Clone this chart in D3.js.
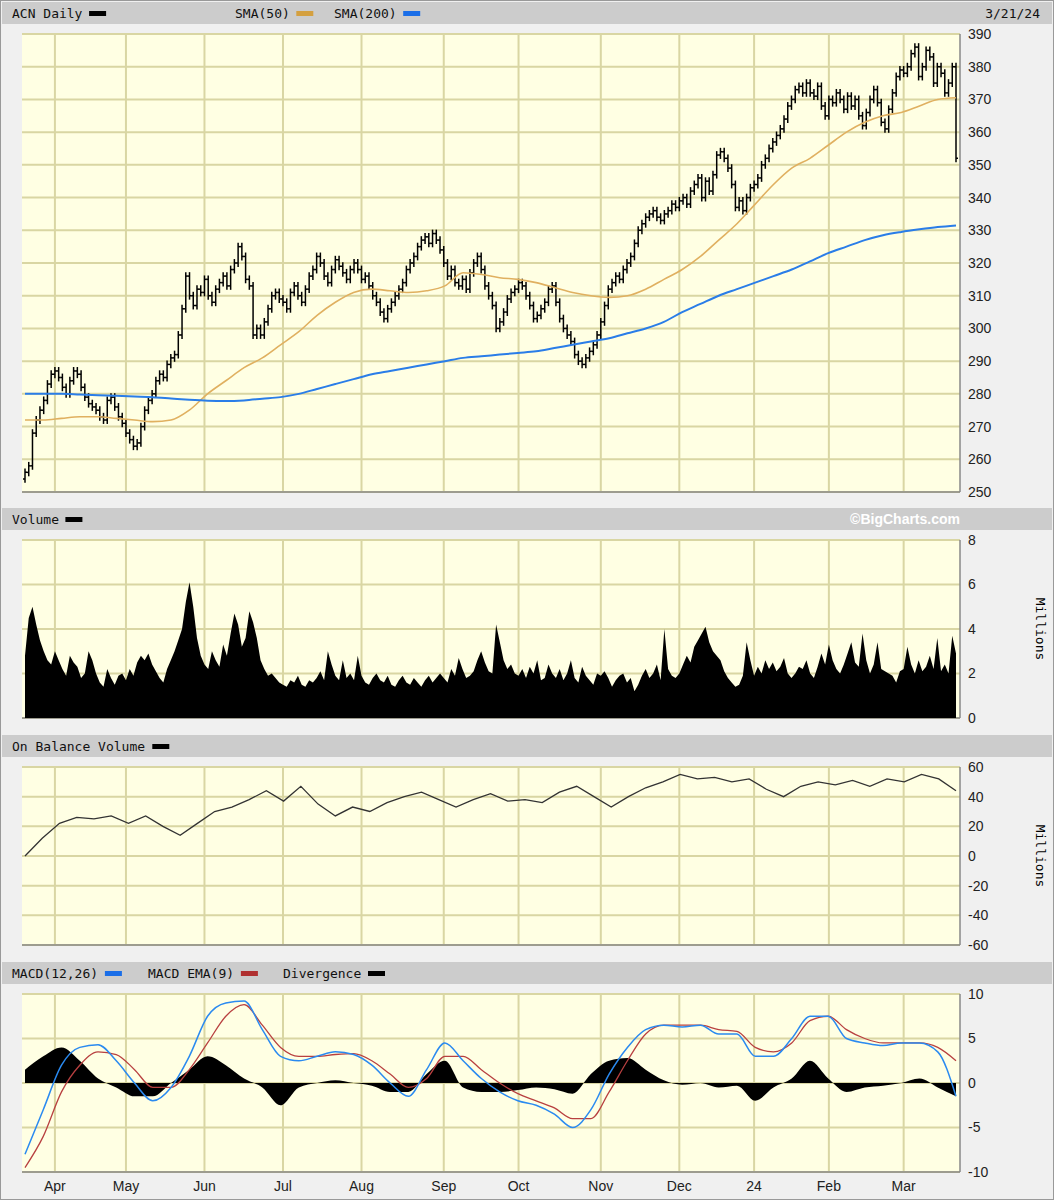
<!DOCTYPE html>
<html><head><meta charset="utf-8">
<script src="https://cdn.jsdelivr.net/npm/d3@7/dist/d3.min.js"></script>
<style>body{margin:0;background:#fff}svg{display:block}</style></head>
<body><svg id="c" width="1054" height="1200"></svg>
<script>
const closes=[256,258,268,272,275,278,283,
286,287,285,282,280,284,287,286,282,279,277,276,275,273,272,278,279,276,273,
271,268,266,264,265,270,275,278,280,284,286,285,289,291,292,298,306,316,310,307,312,311,
315,310,308,312,314,316,313,318,320,325,322,315,313,298,300,298,302,306,310,311,309,
308,306,311,313,310,308,312,316,318,322,320,316,314,318,321,319,317,315,318,320,
318,315,316,313,310,308,305,303,306,308,310,312,314,318,320,322,325,327,328,326,329,327,324,
320,316,318,314,313,315,312,317,320,322,318,313,310,307,300,302,305,309,311,312,
314,313,310,307,303,304,306,308,312,313,308,303,300,298,296,292,290,289,291,293,295,298,
302,307,312,314,316,315,318,320,322,326,330,332,334,335,336,334,333,335,336,338,337,
339,340,338,342,344,346,340,345,342,347,353,354,352,349,344,337,339,336,340,343,
344,346,350,352,355,357,359,361,364,368,370,373,374,372,375,372,371,374,368,365,370,
369,372,370,367,371,368,370,365,362,366,370,373,369,363,361,367,372,377,379,
378,380,384,386,377,380,385,383,375,380,378,372,375,380,352];
const volume=[2.8,4.5,5.0,4.2,3.5,3.0,2.6,
2.4,3.0,2.6,2.2,1.9,2.8,2.5,2.3,1.8,2.0,3.0,2.6,2.0,1.6,1.4,2.2,1.8,1.5,1.9,
2.0,1.7,2.2,1.9,2.5,2.8,2.6,2.9,2.4,2.1,1.8,1.6,2.2,2.6,3.0,3.5,4.0,5.2,6.1,5.0,3.6,2.8,
2.4,2.2,3.0,2.6,2.3,3.3,2.8,3.8,4.7,4.2,3.2,3.6,4.8,4.3,3.6,2.6,2.2,1.9,2.0,1.8,1.6,
1.5,1.4,1.7,1.6,1.9,1.5,1.4,1.7,1.6,1.8,2.1,1.7,3.0,2.4,1.9,1.7,2.6,1.8,2.0,1.7,
2.8,1.9,1.6,1.5,1.8,2.0,1.7,1.6,1.9,1.5,1.4,1.7,1.9,1.6,1.5,1.8,1.6,1.4,1.7,1.9,1.6,1.8,2.0,
1.8,1.6,2.2,1.9,2.7,2.2,1.8,1.9,2.1,2.6,3.0,2.5,2.1,2.0,4.2,3.4,2.6,2.2,2.4,2.0,
1.9,2.2,1.8,2.3,2.0,2.6,1.7,1.8,2.4,2.0,1.8,2.2,1.7,2.0,2.6,1.8,1.6,2.3,1.9,1.7,1.5,2.0,
1.9,2.1,1.8,1.4,1.7,1.9,2.0,1.6,1.8,1.2,1.5,1.9,2.2,1.8,2.0,2.4,1.7,4.0,2.2,1.9,1.8,
2.0,2.4,2.8,2.5,3.2,3.5,3.8,4.1,3.4,3.0,2.8,2.6,2.1,1.8,1.6,1.4,1.5,1.9,3.4,2.6,
1.9,2.3,2.0,2.6,2.2,2.5,2.1,2.3,2.7,2.0,1.8,2.0,2.3,2.2,2.6,2.0,1.8,2.3,2.9,2.4,3.3,
2.6,2.2,2.0,2.4,2.9,3.4,2.5,2.3,3.8,2.6,2.0,2.4,3.4,2.2,2.1,2.0,1.9,1.6,2.1,
2.2,3.2,2.4,2.0,2.6,2.1,2.3,2.8,2.2,3.6,2.1,2.4,2.0,3.7,2.9];
const sma50=[272,272,272.5,273,273,272.5,272,271.5,272,275,280,284,288,291,295,299,304,308,311,312,311.5,311,311.5,313,317,316.5,315.5,315,314,312.5,311,310,309.5,310,312,315,318,322,327,332,338,344,349,352,356,360,363,365,366,368,370,370.5];
const sma200=[280,280,280,279.8,279.6,279.4,279.2,279,278.6,278.2,277.9,277.8,278,278.5,279,280,281.5,283,284.5,286,287,288,289,290,291,291.5,292,292.5,293,294,295,296,297,298.5,300,302,305,307.5,310,312,314,316,318,320.5,323,325,327,328.5,329.5,330.3,331,331.5];
const obv=[0,12,22,26,25,27,22,27,20,14,22,30,33,38,44,37,47,35,27,33,30,36,40,43,38,33,38,42,37,38,36,43,47,40,33,40,46,50,55,52,53,50,52,45,40,47,50,48,51,47,52,50,55,52,44];
const macd=[-8,-3,2,4,4.3,2.5,0,-2,-0.5,3,7.5,9,9.2,6,3,2.5,3,3.5,3.2,2,0,-1.5,1.5,4.5,2.5,0.5,-1,-2,-2.5,-3.5,-5,-3,1,4,6,6.5,6.3,6.5,5.5,5.5,3,3,5,7.5,7.5,5,4.5,4.2,4.5,4.5,3.5,-1.5];
const signal=[-9.5,-6,-1,2,3.5,3.2,1.5,-0.5,-0.5,1.5,4.5,7.5,8.8,6.5,4,3,3,3.2,3.3,2.5,1,-0.5,0.5,3,3,1.5,0,-1.2,-2,-2.8,-4,-4,-1,2.5,5.5,6.5,6.5,6.5,6,5.8,4,3.5,4.5,7,7.5,6,5,4.5,4.5,4.5,4,2.5];
const divergence=[1.5,3,4,2.5,0.5,-0.5,-1.5,-1.5,0,1.5,3,2,0.5,-0.5,-2.5,-0.5,0,0.3,0,-0.3,-1,-1,1,2.5,-0.5,-1,-1,-0.8,-0.5,-0.7,-1.2,1,2.5,2.8,1.5,0.3,-0.2,0,-0.5,-0.3,-2,-0.5,0.5,2.5,0.5,-1,-0.5,-0.3,0,0.5,-0.5,-1.5];
const monthLabels=["Apr","May","Jun","Jul","Aug","Sep","Oct","Nov","Dec","24","Feb","Mar"];
const monthStartIdx=[8,27,48,69,90,112,132,154,175,195,215,235];

const svg=d3.select("#c");
const L=22,R=960,mono="DejaVu Sans Mono, monospace",sans="Liberation Sans, Arial, sans-serif";
svg.append("rect").attr("width",1054).attr("height",1200).attr("fill","#f0f0f0");
svg.append("rect").attr("x",0.5).attr("y",0.5).attr("width",1053).attr("height",1199).attr("fill","none").attr("stroke","#999");
const n=closes.length;
const x=d3.scaleLinear().domain([0,n-1]).range([L+3,R-4]);
const xs=arr=>d3.scaleLinear().domain([0,arr.length-1]).range([L+3,R-4]);
const gridX=monthStartIdx.map(i=>x(i));

function header(y,items){
  svg.append("rect").attr("x",2).attr("y",y).attr("width",1050).attr("height",22).attr("fill","#cccccc");
  items.forEach(it=>{
    const t=svg.append("text").attr("x",it.x).attr("y",y+16).attr("font-family",mono).attr("font-size",13).attr("fill","#111").text(it.t);
    if(it.c){svg.append("rect").attr("x",it.x+it.t.length*7.9+6).attr("y",y+9).attr("width",17).attr("height",5).attr("fill",it.c);}
    if(it.anchor) t.attr("text-anchor",it.anchor);
  });
}
function panel(y0,y1,dom,ticks,fmt){
  const y=d3.scaleLinear().domain(dom).range([y1,y0]);
  svg.append("rect").attr("x",L).attr("y",y0).attr("width",R-L).attr("height",y1-y0).attr("fill","#ffffe3");
  const g=svg.append("g").attr("stroke","#d9d6a3").attr("stroke-width",2);
  ticks.forEach(t=>g.append("line").attr("x1",L).attr("x2",R).attr("y1",y(t)).attr("y2",y(t)));
  gridX.forEach(gx=>g.append("line").attr("x1",gx).attr("x2",gx).attr("y1",y0).attr("y2",y1));
  svg.append("line").attr("x1",R).attr("x2",R).attr("y1",y0).attr("y2",y1).attr("stroke","#888").attr("stroke-width",1.5);
  svg.append("line").attr("x1",L).attr("x2",R).attr("y1",y1).attr("y2",y1).attr("stroke","#888").attr("stroke-width",1.5);
  const ax=svg.append("g").attr("transform",`translate(${R},0)`).call(d3.axisRight(y).tickValues(ticks).tickSize(0).tickPadding(8).tickFormat(fmt||(d=>d)));
  ax.select(".domain").remove();
  ax.selectAll("text").attr("font-family",sans).attr("font-size",14).attr("fill","#222");
  return y;
}
// Price
header(2,[{x:12,t:"ACN Daily",c:"#000"},{x:235,t:"SMA(50)",c:"#d4a040"},{x:334,t:"SMA(200)",c:"#1a6ee8"},{x:1040,t:"3/21/24",anchor:"end"}]);
const yp=panel(34,492,[250,390],d3.range(250,391,10));
const pg=svg.append("g").attr("stroke","#000").attr("stroke-width",1.5);
closes.forEach((c,i)=>{
  const o=i?closes[i-1]:c-2;
  const hi=Math.max(o,c)+1.2,lo=Math.min(o,c)-1.2,xx=x(i);
  pg.append("line").attr("x1",xx).attr("x2",xx).attr("y1",yp(hi)).attr("y2",yp(lo));
  pg.append("line").attr("x1",xx-2).attr("x2",xx).attr("y1",yp(o)).attr("y2",yp(o));
  pg.append("line").attr("x1",xx).attr("x2",xx+2).attr("y1",yp(c)).attr("y2",yp(c));
});
svg.append("path").datum(sma50).attr("fill","none").attr("stroke","#e0b060").attr("stroke-width",1.6)
  .attr("d",d3.line().x((d,i)=>xs(sma50)(i)).y(d=>yp(d)).curve(d3.curveMonotoneX));
svg.append("path").datum(sma200).attr("fill","none").attr("stroke","#2a7de8").attr("stroke-width",2)
  .attr("d",d3.line().x((d,i)=>xs(sma200)(i)).y(d=>yp(d)).curve(d3.curveMonotoneX));
// Volume
header(508,[{x:12,t:"Volume",c:"#000"}]);
svg.append("text").attr("x",960).attr("y",524).attr("text-anchor","end").attr("font-family",sans).attr("font-weight","bold").attr("font-size",14).attr("fill","#fff").text("©BigCharts.com");
const yv=panel(540,718,[0,8],[0,2,4,6,8]);
svg.append("path").datum(volume).attr("fill","#000")
  .attr("d",d3.area().x((d,i)=>x(i)).y0(yv(0)).y1(d=>yv(d)));
svg.append("text").attr("transform","translate(1036,629) rotate(90)").attr("text-anchor","middle").attr("font-family",mono).attr("font-size",13).text("Millions");
// OBV
header(735,[{x:12,t:"On Balance Volume",c:"#000"}]);
const yo=panel(767,945,[-60,60],d3.range(-60,61,20));
svg.append("path").datum(obv).attr("fill","none").attr("stroke","#333").attr("stroke-width",1.3)
  .attr("d",d3.line().x((d,i)=>xs(obv)(i)).y(d=>yo(d)));
svg.append("text").attr("transform","translate(1036,856) rotate(90)").attr("text-anchor","middle").attr("font-family",mono).attr("font-size",13).text("Millions");
// MACD
header(962,[{x:12,t:"MACD(12,26)",c:"#1a6ee8"},{x:148,t:"MACD EMA(9)",c:"#b03030"},{x:283,t:"Divergence",c:"#000"}]);
const ym=panel(994,1172,[-10,10],[-10,-5,0,5,10]);
svg.append("path").datum(divergence).attr("fill","#000")
  .attr("d",d3.area().x((d,i)=>xs(divergence)(i)).y0(ym(0)).y1(d=>ym(d)).curve(d3.curveMonotoneX));
svg.append("path").datum(signal).attr("fill","none").attr("stroke","#b84040").attr("stroke-width",1.3)
  .attr("d",d3.line().x((d,i)=>xs(signal)(i)).y(d=>ym(d)).curve(d3.curveMonotoneX));
svg.append("path").datum(macd).attr("fill","none").attr("stroke","#2a8af0").attr("stroke-width",1.5)
  .attr("d",d3.line().x((d,i)=>xs(macd)(i)).y(d=>ym(d)).curve(d3.curveMonotoneX));
// month labels
monthLabels.forEach((m,i)=>svg.append("text").attr("x",gridX[i]).attr("y",1191).attr("text-anchor","middle").attr("font-family",sans).attr("font-size",14).attr("fill","#222").text(m));
</script></body></html>
